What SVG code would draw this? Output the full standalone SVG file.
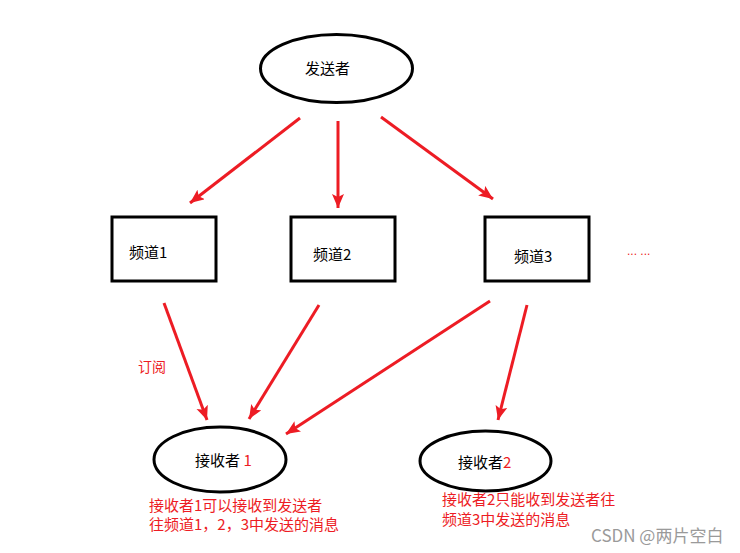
<svg xmlns="http://www.w3.org/2000/svg" width="740" height="553" viewBox="0 0 740 553">
<style>
.shape{fill:#fff;stroke:#000;stroke-width:3}
.t{font-family:"Noto Sans CJK SC","Microsoft YaHei",sans-serif;font-size:15px;fill:#000}
.r{fill:#ed1c24}
.edge{stroke:#ed1c24;stroke-width:3;fill:none;marker-end:url(#ah)}
</style>
<defs>
<marker id="ah" markerUnits="userSpaceOnUse" markerWidth="16" markerHeight="14" refX="14" refY="6" orient="auto">
<path d="M0,0 L14,6 L0,12 L3,6 Z" fill="#ed1c24"/>
</marker>
</defs>
<rect width="740" height="553" fill="#fff"/>
<g id="sender">
<ellipse class="shape" cx="336.5" cy="68.5" rx="76" ry="34"/>
<text class="t" x="305" y="74">发送者</text>
</g>
<g id="channel1">
<rect class="shape" x="112" y="217" width="104" height="64"/>
<text class="t" x="129" y="258">频道1</text>
</g>
<g id="channel2">
<rect class="shape" x="291" y="217" width="104" height="64"/>
<text class="t" x="313" y="260">频道2</text>
</g>
<g id="channel3">
<rect class="shape" x="485" y="217" width="104" height="64"/>
<text class="t" x="514" y="262">频道3</text>
</g>
<g id="more">
<text x="627" y="255" style="font-family:'Liberation Sans',sans-serif;font-size:12px;fill:#ed1c24">... ...</text>
</g>
<g id="receiver1">
<ellipse class="shape" cx="220" cy="459.5" rx="66" ry="32.5"/>
<text class="t" x="195" y="466">接收者 <tspan class="r">1</tspan></text>
</g>
<g id="receiver2">
<ellipse class="shape" cx="485.5" cy="461" rx="65.5" ry="30"/>
<text class="t" x="458" y="468">接收者<tspan class="r">2</tspan></text>
</g>
<g id="connectors">
<line class="edge" x1="300" y1="118" x2="190" y2="203"/>
<line class="edge" x1="338" y1="121" x2="338" y2="208"/>
<line class="edge" x1="381" y1="117" x2="493" y2="199"/>
<line class="edge" x1="164" y1="303" x2="207" y2="420"/>
<line class="edge" x1="319" y1="305" x2="249" y2="419"/>
<line class="edge" x1="490" y1="301" x2="286" y2="434"/>
<line class="edge" x1="527" y1="305" x2="498" y2="420"/>
</g>
<g id="labels">
<text class="t r" x="138" y="372" style="font-size:14px">订阅</text>
<text class="t r" x="149" y="511">接收者1可以接收到发送者</text>
<text class="t r" x="149" y="530">往频道1，2，3中发送的消息</text>
<text class="t r" x="442" y="505">接收者2只能收到发送者往</text>
<text class="t r" x="442" y="525">频道3中发送的消息</text>
</g>
<text x="591" y="542" style="font-family:'Noto Sans CJK SC',sans-serif;font-size:17px;fill:#9a9a9a">CSDN @两片空白</text>
</svg>
